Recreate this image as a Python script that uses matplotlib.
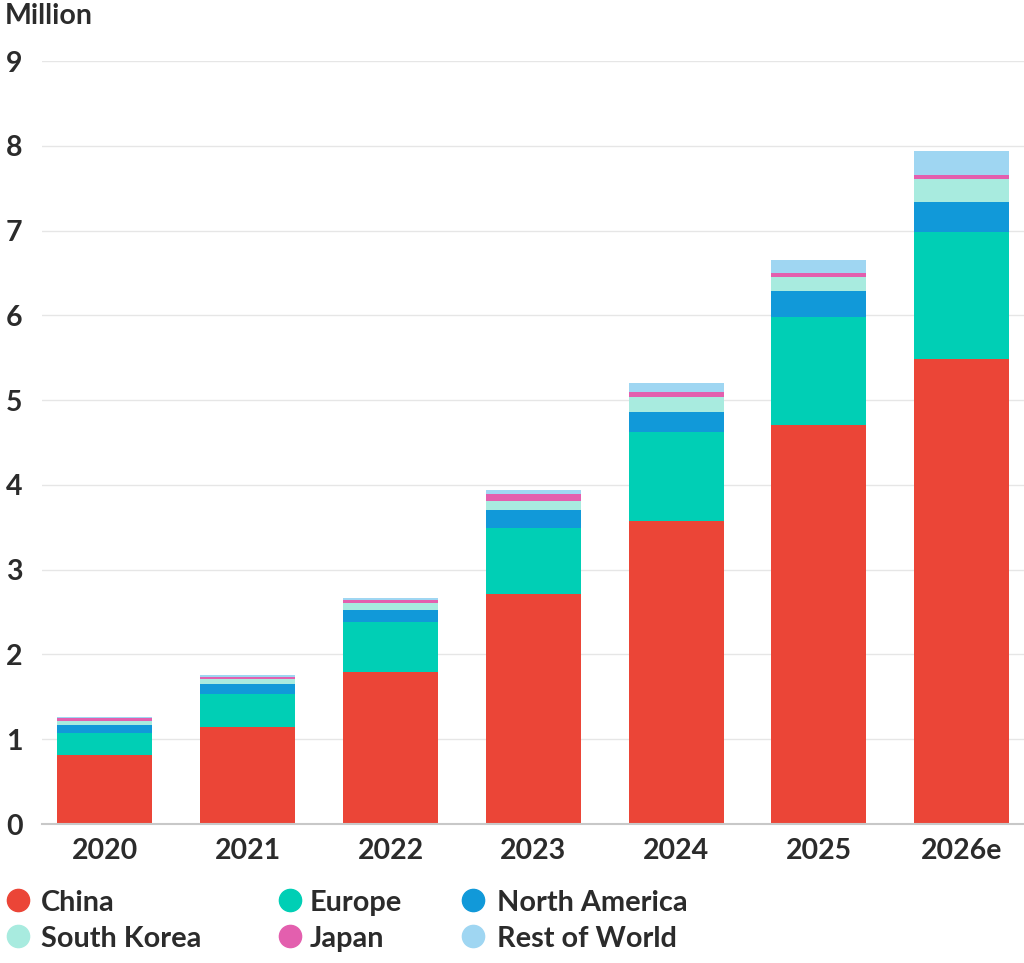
import matplotlib
matplotlib.use("Agg")
import matplotlib.pyplot as plt
from matplotlib.lines import Line2D
import numpy as np

years = ["2020", "2021", "2022", "2023", "2024", "2025", "2026e"]
china = [0.81, 1.14, 1.79, 2.71, 3.57, 4.71, 5.49]
europe = [0.26, 0.39, 0.59, 0.78, 1.05, 1.27, 1.49]
north_america = [0.10, 0.12, 0.15, 0.21, 0.24, 0.31, 0.36]
south_korea = [0.05, 0.06, 0.08, 0.11, 0.18, 0.16, 0.27]
japan = [0.025, 0.025, 0.03, 0.08, 0.05, 0.05, 0.04]
rest_of_world = [0.02, 0.02, 0.02, 0.05, 0.11, 0.15, 0.29]

series_names = ["China", "Europe", "North America", "South Korea", "Japan", "Rest of World"]
series_values = [china, europe, north_america, south_korea, japan, rest_of_world]
colors = ["#EB4537", "#00CFB5", "#1199D9", "#A8EBDF", "#E35FAE", "#9FD6F2"]
y_ticks = [0, 1, 2, 3, 4, 5, 6, 7, 8, 9]

plt.rcParams['font.family'] = ['Lato', 'DejaVu Sans']
text_color = "#2B2B2B"

fig = plt.figure(figsize=(10.24, 9.63), dpi=100)
ax = fig.add_axes([42/1024, (963-824)/963, 1 - 42/1024, (824-61)/963])

x = np.arange(len(years))
bottom = np.zeros(len(years))
for name, vals, c in zip(series_names, series_values, colors):
    v = np.array(vals)
    ax.bar(x, v, width=0.665, bottom=bottom, color=c, edgecolor='none', zorder=3)
    bottom += v

ax.set_xlim(-0.44, 6.436)
ax.set_ylim(0, 9)
ax.set_yticks(y_ticks)
ax.set_yticklabels([str(t) for t in y_ticks])
ax.set_xticks(x)
ax.set_xticklabels(years)

ax.grid(axis='y', color='#E6E6E6', linewidth=1.0, zorder=0)
ax.set_axisbelow(True)
for s in ['top', 'right', 'left']:
    ax.spines[s].set_visible(False)
ax.spines['bottom'].set_color('#C8C8C8')
ax.spines['bottom'].set_linewidth(1.5)
ax.spines['bottom'].set_zorder(4)

ax.tick_params(axis='both', length=0, labelsize=20.5, labelcolor=text_color)
ax.tick_params(axis='y', pad=14)
ax.tick_params(axis='x', pad=10)
for lab in ax.get_xticklabels() + ax.get_yticklabels():
    lab.set_fontweight('bold')

fig.text(5/1024, 1 - 3/963, "Million", ha='left', va='top', fontsize=20.5,
         fontweight='bold', color=text_color)

# Legend (row-major, 3 columns)
marker_x = [18, 290, 473]
text_x = [41, 310, 497]
row_y = [900, 936]
for i, (name, c) in enumerate(zip(series_names, colors)):
    r, col = divmod(i, 3)
    fx = marker_x[col] / 1024
    fy = 1 - row_y[r] / 963
    fig.add_artist(Line2D([fx], [fy], marker='o', markersize=16, color=c,
                          linestyle='none', transform=fig.transFigure))
    fig.text(text_x[col] / 1024, fy, name, ha='left', va='center_baseline', fontsize=20.8,
             fontweight='bold', color=text_color)

fig.savefig("out.png", dpi=100)
